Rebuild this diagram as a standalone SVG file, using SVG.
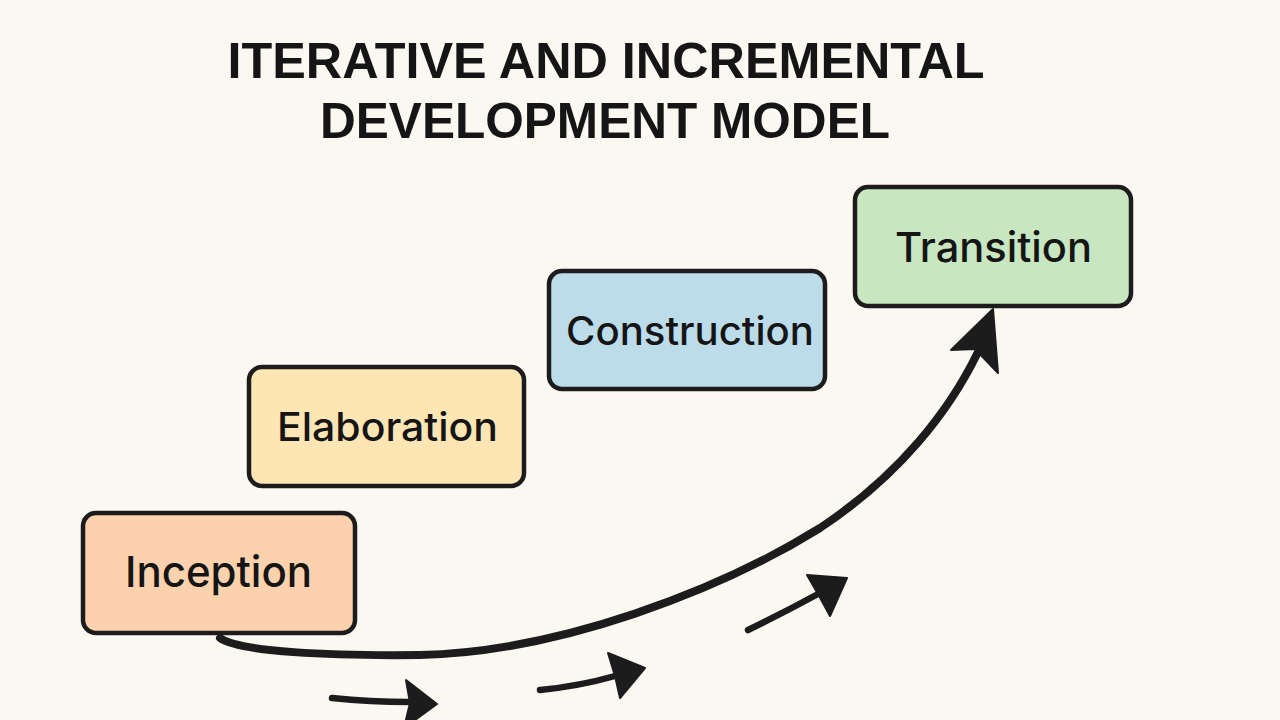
<svg xmlns="http://www.w3.org/2000/svg" width="1280" height="720" viewBox="0 0 1280 720">
<style>
.title{font-family:"Liberation Sans",Arial,sans-serif;font-weight:700;font-size:50px;fill:#151515;text-anchor:middle}
.box{stroke:#1c1c1c;stroke-width:4.5}
.lbl{font-family:Inter,"Liberation Sans",sans-serif;font-weight:500;fill:#151515;text-anchor:middle}
.line{fill:none;stroke:#1c1c1c;stroke-linecap:round}
.head{fill:#1c1c1c;stroke:#1c1c1c;stroke-width:2;stroke-linejoin:round}
</style>
<rect width="1280" height="720" fill="#fbf8f2"/>
<g id="title">
<text class="title" x="606" y="78" textLength="757" lengthAdjust="spacingAndGlyphs">ITERATIVE AND INCREMENTAL</text>
<text class="title" x="605" y="138" textLength="570" lengthAdjust="spacingAndGlyphs">DEVELOPMENT MODEL</text>
</g>
<g id="connectors">
<path class="line" stroke-width="8" d="M220,638 C240,652 330,656 420,655 C560,652 720,590 820,528 C900,475 950,410 978,352"/>
<polygon class="head" points="993,309 951,350 975,349 998,373"/>
<path class="line" stroke-width="6.5" d="M332,698 Q370,702 410,702"/>
<polygon class="head" points="437,704 406,680 410,703 404,728"/>
<path class="line" stroke-width="6.5" d="M540,690 Q580,686 615,676"/>
<polygon class="head" points="645,668 608,653 615,676 620,698"/>
<path class="line" stroke-width="6.5" d="M748,630 Q785,612 818,594"/>
<polygon class="head" points="847,578 807,575 818,594 830,616"/>
</g>
<g id="inception">
<rect class="box" x="83" y="513" width="272" height="120" rx="13" fill="#fcd1ae"/>
<text class="lbl" x="218.5" y="587" font-size="43" textLength="187" lengthAdjust="spacingAndGlyphs">Inception</text>
</g>
<g id="elaboration">
<rect class="box" x="249" y="367" width="275" height="119" rx="13" fill="#fde6b4"/>
<text class="lbl" x="387.5" y="441" font-size="39" textLength="221" lengthAdjust="spacingAndGlyphs">Elaboration</text>
</g>
<g id="construction">
<rect class="box" x="549" y="271" width="276" height="118" rx="13" fill="#bcdcea"/>
<text class="lbl" x="690" y="345" font-size="39" textLength="248" lengthAdjust="spacingAndGlyphs">Construction</text>
</g>
<g id="transition">
<rect class="box" x="855" y="187" width="276" height="119" rx="13" fill="#c8e6c0"/>
<text class="lbl" x="993.5" y="262" font-size="41" textLength="197" lengthAdjust="spacingAndGlyphs">Transition</text>
</g>
</svg>
